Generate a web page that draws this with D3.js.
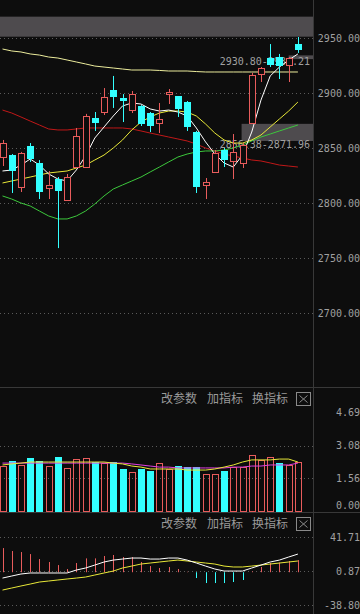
<!DOCTYPE html>
<html><head><meta charset="utf-8">
<script src="https://cdn.jsdelivr.net/npm/d3@7/dist/d3.min.js"></script>
<style>html,body{margin:0;padding:0;background:#0d0d0d;}svg{display:block;}</style>
</head><body>
<script>
// ---------- DATA ----------
const opens  = [2841.8,2843.6,2814.5,2851.8,2836.4,2813.6,2821.8,2802.7,2832.7,2832.7,2877.3,2882.7,2902.7,2895.5,2884.5,2888.2,2881.8,2872.7,2899.0,2897.3,2891.8,2864.5,2816.4,2828.2,2848.2,2838.2,2836.4,2872.7,2917.3,2931.8,2932.7,2925.5,2944.5];
const highs  = [2857.3,2844.5,2846.4,2854.5,2839.0,2829.0,2823.6,2826.4,2868.2,2881.0,2882.7,2904.5,2915.5,2899.0,2901.8,2889.0,2882.7,2890.9,2903.6,2897.3,2892.7,2865.5,2822.7,2848.2,2850.0,2862.7,2854.5,2918.2,2923.6,2944.5,2935.5,2932.7,2950.9];
const lows   = [2833.6,2809.1,2810.0,2837.3,2803.6,2803.6,2759.0,2802.7,2832.7,2831.8,2865.5,2880.0,2886.4,2873.6,2881.8,2870.0,2864.5,2863.6,2890.0,2878.2,2865.5,2809.1,2803.6,2828.2,2832.7,2821.8,2831.8,2872.7,2910.0,2923.6,2912.7,2910.0,2936.4];
const closes = [2854.5,2829.1,2845.5,2840.0,2810.0,2816.4,2810.9,2823.6,2860.9,2879.1,2872.7,2896.4,2896.4,2892.7,2899.0,2871.8,2870.0,2876.4,2900.9,2885.5,2869.1,2814.5,2819.1,2845.5,2839.0,2846.4,2852.7,2916.4,2922.7,2925.5,2924.5,2931.8,2939.1];

const ma5   = [2829.1,2830.0,2834.5,2840.0,2834.5,2826.4,2821.8,2820.0,2830.0,2842.7,2859.1,2869.1,2879.1,2888.2,2890.9,2890.0,2885.5,2883.6,2884.5,2882.7,2879.1,2868.2,2855.5,2844.5,2836.4,2832.7,2843.6,2864.5,2893.6,2915.5,2923.6,2930.0,2935.5];
const ma10  = [2818.2,2820.0,2821.8,2823.6,2825.5,2827.3,2828.2,2829.1,2831.8,2834.5,2839.1,2843.6,2850.0,2857.3,2866.4,2873.6,2878.2,2881.8,2883.6,2883.6,2882.7,2879.1,2871.8,2863.6,2857.3,2854.5,2854.5,2857.3,2861.8,2869.1,2876.4,2883.6,2891.8];
const ma30  = [2806.4,2803.6,2800.0,2797.3,2792.7,2788.2,2785.5,2785.5,2788.2,2792.7,2799.1,2806.4,2812.7,2816.4,2820.0,2823.6,2828.2,2832.7,2837.3,2841.8,2844.5,2846.4,2847.3,2847.3,2848.2,2850.0,2852.7,2856.4,2860.0,2862.7,2865.5,2868.2,2870.9];
const ma60  = [2884.5,2881.8,2878.2,2874.5,2870.9,2867.3,2866.4,2866.4,2867.3,2868.2,2868.2,2868.2,2868.2,2868.2,2867.3,2865.5,2863.6,2861.8,2860.0,2858.2,2856.4,2853.6,2850.0,2847.3,2844.5,2842.7,2840.9,2839.1,2838.2,2836.4,2834.5,2833.6,2832.7];
const ma120 = [2940.0,2938.2,2937.3,2935.5,2934.5,2932.7,2931.8,2930.0,2928.2,2926.4,2924.5,2923.6,2922.7,2921.8,2920.9,2920.9,2920.9,2920.5,2920.0,2920.0,2920.0,2919.5,2919.1,2919.1,2919.1,2919.1,2919.1,2919.1,2919.1,2919.1,2919.1,2919.1,2919.1];

const priceTicks = [2950, 2900, 2850, 2800, 2750, 2700];
const zoneLow  = [2951.2, 2930.80, 2856.38];
const zoneHigh = [2969.4, 2934.21, 2871.96];
const zoneFrom = [-0.3, 31.0, 25.9];
const zoneText = ["", "2930.80-2934.21", "2856.38-2871.96"];

const volumes = [2.13,2.37,2.18,2.51,2.37,2.13,2.56,2.04,2.46,2.51,2.32,2.27,2.32,1.99,1.85,1.99,1.89,2.27,1.99,2.13,2.08,2.08,1.75,1.75,1.89,2.08,2.08,2.65,2.42,2.56,2.27,2.18,2.32];
const volMa5  = [2.18,2.23,2.27,2.32,2.32,2.32,2.32,2.32,2.32,2.32,2.32,2.32,2.27,2.23,2.13,2.08,1.99,1.99,1.99,1.99,1.94,1.94,1.94,1.99,2.08,2.18,2.32,2.42,2.42,2.42,2.46,2.46,2.32];
const volMa10 = [2.27,2.27,2.27,2.27,2.27,2.27,2.27,2.27,2.27,2.27,2.27,2.27,2.27,2.27,2.23,2.18,2.13,2.08,2.08,2.04,2.04,2.04,2.04,2.04,2.04,2.08,2.08,2.13,2.13,2.18,2.18,2.18,2.27];
const volTicks = ["4.69", "3.08", "1.56", "0.00"];

const macdBar = [28.6,25.1,23.9,21.5,15.6,12.1,8.5,3.8,10.9,16.4,16.4,19.2,20.4,18.0,18.0,12.1,7.3,5.0,6.2,3.8,0.5,-6.9,-12.8,-12.8,-12.8,-11.6,-9.2,1.0,6.2,10.9,11.6,13.3,14.4];
const dif = [-6.9,-4.5,-2.1,-0.9,-0.9,-0.9,-0.9,-0.9,2.6,5.0,8.5,12.1,14.4,15.6,16.8,16.8,15.6,15.6,16.8,16.8,14.4,10.9,7.3,3.8,1.4,1.4,1.4,5.0,8.5,12.1,14.4,18.0,21.5];
const dea = [-21.1,-18.7,-16.3,-14.0,-11.6,-10.4,-9.2,-8.0,-6.9,-5.7,-3.3,-0.9,1.4,5.0,7.3,9.7,10.9,12.1,13.3,14.4,13.3,12.1,10.9,9.7,7.3,6.2,6.2,7.3,8.5,9.7,10.9,12.1,13.3];
const macdTicks = ["41.71", "0.87", "-38.80"];

const toolbarLabels = ["改参数", "加指标", "换指标"];

// ---------- STYLE ----------
const W = 360, H = 614, PLOT_R = 313;
const RED = "#e85c5c", CYAN = "#33ffff", GRID = "#5a5a5a", TXT = "#a0a0a0";
const MONO = "'DejaVu Sans Mono', monospace";
const CJK = "'Noto Sans CJK SC', sans-serif";

const svg = d3.select("body").append("svg").attr("width", W).attr("height", H);
svg.append("rect").attr("width", W).attr("height", H).attr("fill", "#0d0d0d");

const idx = d3.range(opens.length);
const x = d3.scaleLinear().domain([0, 32]).range([2.5, 297.9]);
const yP = d3.scaleLinear().domain([2700, 2950]).range([313, 38]);
const yV = d3.scaleLinear().domain([0, 4.69]).range([511, 412]);
const yM = d3.scaleLinear().domain([-38.80, 41.71]).range([605, 537]);
const BW = 7;

// frame lines
svg.append("line").attr("x1", PLOT_R + 0.5).attr("x2", PLOT_R + 0.5).attr("y1", 0).attr("y2", H).attr("stroke", "#383838");
[387.5, 512.5].forEach(yy => svg.append("line").attr("x1", 0).attr("x2", W).attr("y1", yy).attr("y2", yy).attr("stroke", "#383838"));

function grid(yy) {
  svg.append("line").attr("x1", 0).attr("x2", PLOT_R).attr("y1", Math.round(yy) + 0.5).attr("y2", Math.round(yy) + 0.5)
    .attr("stroke", GRID).attr("stroke-dasharray", "1,3");
}
function axisLabel(txt, yy) {
  svg.append("text").attr("x", W).attr("y", yy).attr("dy", "0.35em").attr("text-anchor", "end")
    .attr("font-family", MONO).attr("font-size", 10).attr("fill", TXT).text(txt);
}

// ---------- MAIN PANEL ----------
priceTicks.forEach(t => { grid(yP(t)); axisLabel(t.toFixed(2), yP(t)); });

zoneLow.forEach((lo, i) => {
  const x0 = i === 0 ? 0 : x(zoneFrom[i]);
  svg.append("rect").attr("x", x0).attr("width", PLOT_R - x0)
    .attr("y", yP(zoneHigh[i])).attr("height", yP(lo) - yP(zoneHigh[i]))
    .attr("fill", "#5b575b").attr("opacity", 0.85);
});
zoneText.forEach((t, i) => {
  if (!t) return;
  svg.append("text").attr("x", 310).attr("y", yP(zoneHigh[i]) + (i === 1 ? 10 : 24)).attr("text-anchor", "end")
    .attr("font-family", MONO).attr("font-size", 10).attr("fill", TXT).text(t);
});

const lineP = d3.line().x((d, i) => x(i)).y(d => yP(d));
[[ma120, "#ecec9c"], [ma60, "#c01818"], [ma30, "#3cc83c"], [ma10, "#e8e838"], [ma5, "#ffffff"]].forEach(([arr, c]) => {
  svg.append("path").attr("d", lineP(arr)).attr("fill", "none").attr("stroke", c).attr("stroke-width", 1);
});

const cg = svg.append("g");
idx.forEach(i => {
  const up = closes[i] >= opens[i];
  const col = up ? RED : CYAN;
  const cx = Math.round(x(i));
  const top = yP(Math.max(opens[i], closes[i]));
  const bot = yP(Math.min(opens[i], closes[i]));
  const hBody = Math.max(1, bot - top);
  cg.append("line").attr("x1", cx + 0.5).attr("x2", cx + 0.5).attr("y1", yP(highs[i])).attr("y2", top).attr("stroke", col);
  cg.append("line").attr("x1", cx + 0.5).attr("x2", cx + 0.5).attr("y1", top + hBody).attr("y2", yP(lows[i])).attr("stroke", col);
  if (up) {
    cg.append("rect").attr("x", cx - 3 + 0.5).attr("y", Math.round(top) + 0.5).attr("width", BW - 1).attr("height", Math.max(1, Math.round(hBody)))
      .attr("fill", "#0d0d0d").attr("stroke", col).attr("shape-rendering", "crispEdges");
  } else {
    cg.append("rect").attr("x", cx - 3).attr("y", Math.round(top)).attr("width", BW).attr("height", Math.max(1, Math.round(hBody)))
      .attr("fill", col).attr("shape-rendering", "crispEdges");
  }
});

// ---------- TOOLBARS ----------
function toolbar(cy) {
  const xs = [161, 207, 252];
  toolbarLabels.forEach((t, i) => svg.append("text").attr("x", xs[i]).attr("y", cy).attr("dy", "0.36em")
    .attr("font-family", CJK).attr("font-size", 12).attr("fill", "#9a9a9a").text(t));
  svg.append("rect").attr("x", 296.5).attr("y", cy - 6.5).attr("width", 14).attr("height", 13).attr("fill", "none").attr("stroke", "#8a8a8a");
  svg.append("path").attr("d", `M${299.5},${cy - 3.5}L${307.5},${cy + 3.5}M${307.5},${cy - 3.5}L${299.5},${cy + 3.5}`).attr("stroke", "#8a8a8a");
}
toolbar(399);
toolbar(524);

// ---------- VOLUME PANEL ----------
volTicks.forEach((t, i) => {
  const v = +t;
  if (i === 1 || i === 2) grid(yV(v));
  axisLabel(t, i === 3 ? 505 : yV(v));
});
idx.forEach(i => {
  // volume colour follows close vs previous close
  const up = i === 0 ? closes[i] >= opens[i]
    : (closes[i] > closes[i - 1] || (closes[i] === closes[i - 1] && closes[i] >= opens[i]));
  const cx = Math.round(x(i));
  const top = Math.round(yV(volumes[i]));
  if (up) {
    svg.append("rect").attr("x", cx - 3 + 0.5).attr("y", top + 0.5).attr("width", BW - 1).attr("height", 511 - top)
      .attr("fill", "none").attr("stroke", RED).attr("shape-rendering", "crispEdges");
  } else {
    svg.append("rect").attr("x", cx - 3).attr("y", top).attr("width", BW).attr("height", 512 - top)
      .attr("fill", CYAN).attr("shape-rendering", "crispEdges");
  }
});
const lineV = d3.line().x((d, i) => x(i)).y(d => yV(d));
svg.append("path").attr("d", lineV(volMa10)).attr("fill", "none").attr("stroke", "#e040e0");
svg.append("path").attr("d", lineV(volMa5)).attr("fill", "none").attr("stroke", "#e8e838");

// ---------- MACD PANEL ----------
macdTicks.forEach(t => { grid(yM(+t)); axisLabel(t, yM(+t)); });
const y0 = yM(0);
idx.forEach(i => {
  const v = macdBar[i];
  const cx = Math.round(x(i)) + 0.5;
  svg.append("line").attr("x1", cx).attr("x2", cx).attr("y1", y0).attr("y2", yM(v))
    .attr("stroke", v >= 0 ? RED : CYAN).attr("stroke-width", 1);
});
const lineM = d3.line().x((d, i) => x(i)).y(d => yM(d));
svg.append("path").attr("d", lineM(dea)).attr("fill", "none").attr("stroke", "#e8e838");
svg.append("path").attr("d", lineM(dif)).attr("fill", "none").attr("stroke", "#ffffff");
</script>
</body></html>
